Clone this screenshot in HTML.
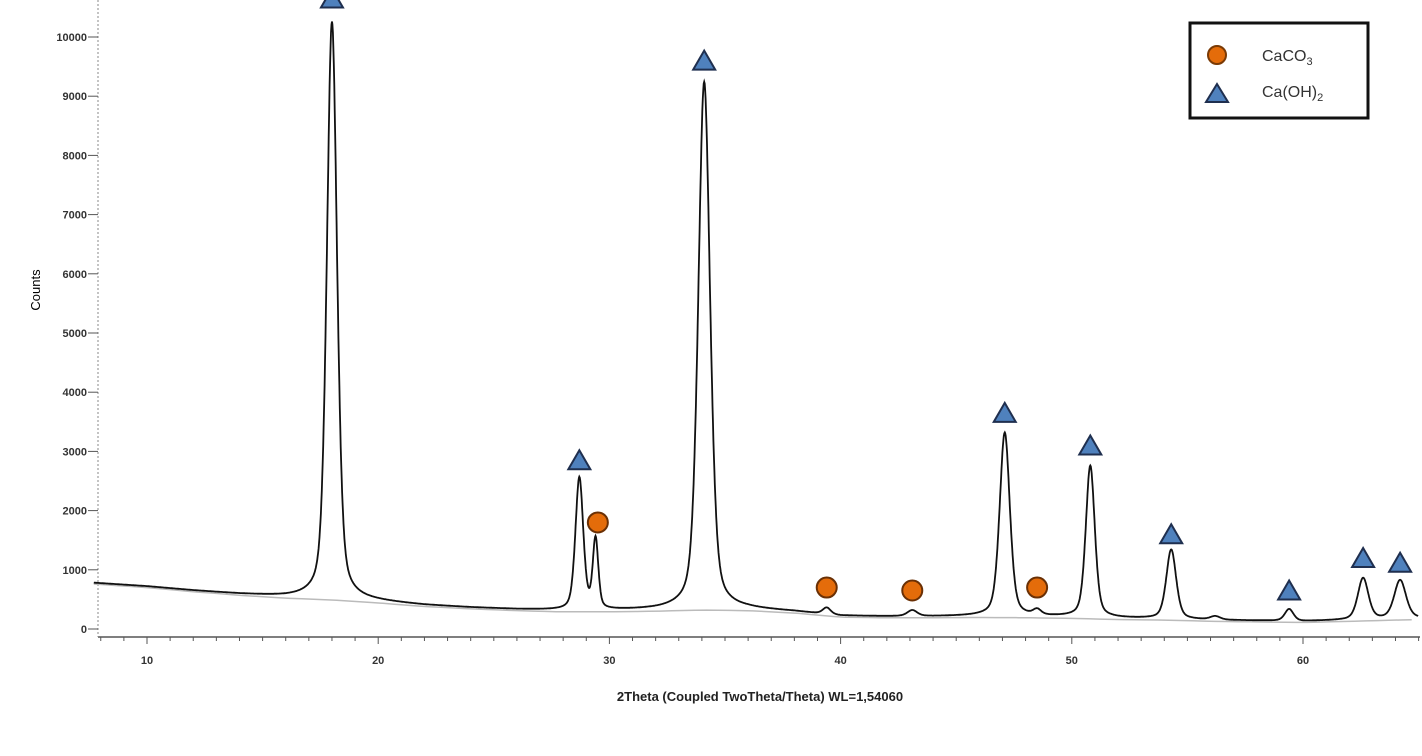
<!DOCTYPE html>
<html><head><meta charset="utf-8"><style>
html,body{margin:0;padding:0;background:#fff;}
svg{display:block;font-family:"Liberation Sans",Arial,sans-serif;}
</style></head><body>
<svg id="chart" width="1422" height="756" viewBox="0 0 1422 756">
<g id="axes"></g>
<g id="series"></g>
<g id="markers"></g>
<text x="40" y="290" font-size="13" text-anchor="middle" transform="rotate(-90 40 290)">Counts</text>
<text x="760" y="701" font-size="13" font-weight="bold" fill="#222" text-anchor="middle">2Theta (Coupled TwoTheta/Theta) WL=1,54060</text>
<g>
<rect x="1190" y="23" width="178" height="95" fill="#fff" stroke="#111" stroke-width="3"/>
<circle cx="1217" cy="55" r="9" fill="#e46c0a" stroke="#7a3a05" stroke-width="2"/>
<text x="1262" y="61" font-size="16" fill="#333">CaCO<tspan font-size="11" dy="4">3</tspan></text>
<polygon points="1217,84 1206,102 1228,102" fill="#4f81bd" stroke="#1f2f4f" stroke-width="2"/>
<text x="1262" y="97" font-size="16" fill="#333">Ca(OH)<tspan font-size="11" dy="4">2</tspan></text>
</g>
</svg>
<script>
const xTicks=[10,20,30,40,50,60];
const yTicks=[0,1000,2000,3000,4000,5000,6000,7000,8000,9000,10000];
const bgX=[7.7,10,12,14,16,18,20,22,24,26,28,30,32,34,36,38,40,42,44,46,48,50,52,54,56,58,60,62,64,65];
const bgY=[780,720,650,590,540,510,460,400,360,330,310,310,320,340,330,290,220,210,210,215,210,200,180,170,150,140,130,150,170,180];
const peakPos=[18.0,28.7,29.4,34.1,39.4,43.1,47.1,48.5,50.8,54.3,56.2,59.4,62.6,64.2];
const peakHeight=[9750,2230,1180,8900,110,100,3100,90,2560,1170,60,200,700,650];
const peakWidth=[0.26,0.2,0.14,0.3,0.2,0.25,0.26,0.2,0.23,0.25,0.25,0.22,0.27,0.3];
const ohPos=[18.0,28.7,34.1,47.1,50.8,54.3,59.4,62.6,64.2];
const ohVal=[10650,2850,9600,3650,3100,1600,650,1200,1120];
const co3Pos=[29.5,39.4,43.1,48.5];
const co3Val=[1800,700,650,700];

const NS="http://www.w3.org/2000/svg";
const X=v=>147+(v-10)*23.12;
const Y=v=>629-v*0.0592;
function mk(tag,attrs,parent){const e=document.createElementNS(NS,tag);for(const k in attrs)e.setAttribute(k,attrs[k]);parent.appendChild(e);return e;}
const axes=document.getElementById('axes'),series=document.getElementById('series'),markers=document.getElementById('markers');

let e=mk('line',{x1:98,y1:637,x2:1420,y2:637,stroke:'#555','stroke-width':1.5},axes);


e=mk('line',{x1:98,y1:0,x2:98,y2:637,stroke:'#888','stroke-width':1,'stroke-dasharray':'2 2'},axes);


for(let v=8;v<=65;v++){mk('line',{x1:X(v),y1:637,x2:X(v),y2:v%10==0?644:641,stroke:'#555','stroke-width':1},axes);}
xTicks.forEach(t=>{const tx=mk('text',{x:X(t),y:664,'font-size':11,'font-weight':'bold','text-anchor':'middle',fill:'#333'},axes);tx.textContent=t;

});
yTicks.forEach(t=>{mk('line',{x1:88,y1:Y(t),x2:98,y2:Y(t),stroke:'#555'},axes);
const tx=mk('text',{x:87,y:Y(t)+4,'font-size':11,'font-weight':'bold','text-anchor':'end',fill:'#333'},axes);tx.textContent=t;

});

function bg(x){for(let i=0;i<bgX.length-1;i++){if(x<=bgX[i+1]){const f=(x-bgX[i])/(bgX[i+1]-bgX[i]);return bgY[i]+f*(bgY[i+1]-bgY[i]);}}return bgY[bgY.length-1];}
let pts=[];
for(let x=7.7;x<=65;x+=0.02){let y=bg(x);peakPos.forEach((p,i)=>{const w=peakWidth[i];const d=(x-p)/w;y+=peakHeight[i]*(0.4/(1+d*d)+0.6*Math.exp(-0.693*d*d));});
pts.push(X(x).toFixed(1)+','+Y(y).toFixed(1));}
let bl=[];for(let x=7.7;x<=65;x+=0.5)bl.push(X(x).toFixed(1)+','+Y(bg(x)-20).toFixed(1));
e=mk('polyline',{points:bl.join(' '),fill:'none',stroke:'#bbb','stroke-width':1.5},series);


e=mk('polyline',{points:pts.join(' '),fill:'none',stroke:'#111','stroke-width':1.8},series);



ohPos.forEach((p,i)=>{const cx=X(p),cy=Y(ohVal[i]);
const t=mk('polygon',{points:`${cx},${cy-10} ${cx-11},${cy+9} ${cx+11},${cy+9}`,fill:'#4f81bd',stroke:'#1f2f4f','stroke-width':2},markers);

});
co3Pos.forEach((p,i)=>{const c=mk('circle',{cx:X(p),cy:Y(co3Val[i]),r:10,fill:'#e46c0a',stroke:'#6a3005','stroke-width':2},markers);

});
</script>
</body></html>
